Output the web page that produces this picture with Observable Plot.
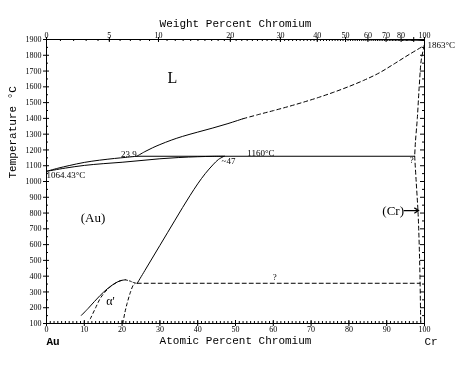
<!DOCTYPE html>
<html><head><meta charset="utf-8">
<script src="https://cdn.jsdelivr.net/npm/d3@7"></script>
<script src="https://cdn.jsdelivr.net/npm/@observablehq/plot@0.6"></script>
<style>html,body{margin:0;padding:0;background:#fff}svg{display:block;will-change:transform}</style>
</head><body><div id="chart"></div>
<script>
// ---- data: [atomic % Cr, temperature °C] ----
const liquidusAu = [[0,1064.43],[3,1084],[6,1101],[10,1121],[14,1135],[18,1146],[21,1153],[23.9,1160]];
const liquidusSolid = [[23.9,1160],[26,1189],[28,1213],[30,1234],[33,1262],[36,1286],[40,1313],[44,1339],[48,1367],[52,1398]];
const liquidusDashed = [[52,1398],[56,1424],[60,1449],[64,1475],[68,1503],[72,1533],[76,1566],[80,1602],[84,1642],[88,1688],[92,1746],[96,1806],[100,1863]];
const solidusAu = [[0,1064.43],[5,1085],[10,1102],[15,1113],[20,1122],[25,1133],[30,1144],[35,1152],[40,1157],[44,1159.5],[47,1160]];
const solvusAu = [[24,355],[26,435],[28,515],[30,595],[32,675],[34,755],[36,835],[38,912],[40,985],[42,1050],[44,1105],[45.5,1140],[47,1160]];
const peritectic = [[23.9,1160],[97.4,1160]];
const eutectoid = [[24,355],[98.8,355]];
const solidusCr = [[100,1863],[99.2,1780],[98.6,1600],[98.1,1400],[97.6,1250],[97.4,1160]];
const solvusCr = [[97.4,1160],[97.8,1000],[98.3,800],[98.6,600],[98.8,400],[99,100]];
const alphaSolid = [[9.2,151],[11,195],[12.7,240],[14.2,278],[16,318],[17.8,350],[19.5,371],[20.9,377]];
const alphaTopDashed = [[20.9,377],[22.2,368],[23,360],[24,355]];
const alphaInnerDashed = [[11.6,130],[13,200],[14.2,258],[15.5,300],[17,335],[19,366],[20.5,376]];
const alphaRightDashed = [[20.2,100],[20.7,165],[21.3,225],[22.2,298],[23,345],[23.5,355]];

// ---- axis tick values ----
const atMajor = d3.range(0, 101, 10);
const atMinor = d3.range(0, 101, 1);
const wtLabels = [0,5,10,20,30,40,50,60,70,80,100];
const wtMajor = [0,5,10,20,30,40,50,60,70,80,90,100];
const wtMinor = d3.range(0, 101, 1);
const tempMajor = d3.range(100, 1901, 100);
const tempMinor = d3.range(150, 1900, 100);

// ---- annotations ----
const regionLabels = [
  {t:"L", x:33.3, y:1659, size:16, style:"normal"},
  {t:"(Au)", x:12.3, y:772, size:13, style:"normal"},
  {t:"(Cr)", x:91.7, y:816, size:13, style:"normal"},
  {t:"α'", x:16.9, y:240, size:12, style:"italic"}
];
const pointLabels = [
  {t:"23.9", x:23.9, y:1160, anchor:"end", line:"bottom", dx:0, dy:1},
  {t:"~47", x:46.3, y:1160, anchor:"start", line:"top", dx:0, dy:1},
  {t:"1160°C", x:53.1, y:1160, anchor:"start", line:"bottom", dx:0, dy:0},
  {t:"1064.43°C", x:0, y:1064.43, anchor:"start", line:"top", dx:0, dy:0},
  {t:"1863°C", x:100, y:1863, anchor:"start", line:"middle", dx:3, dy:0},
  {t:"?", x:96.6, y:1133, anchor:"middle", line:"middle", dx:0, dy:0},
  {t:"?", x:60.4, y:392, anchor:"middle", line:"middle", dx:0, dy:0}
];
const crArrow = [{x1:94.6, x2:98.5, y:816}];

const MAu = 196.967, MCr = 51.996;
const wt2at = w => w >= 100 ? 100 : 100 * (w / MCr) / (w / MCr + (100 - w) / MAu);

const W = 474, H = 372, mL = 46, mR = 50, mT = 39, mB = 49;
const iw = W - mL - mR, ih = H - mT - mB;
const X = d => d[0], Y = d => d[1];
const dash = "4,3";
const serif = "Liberation Serif, Times New Roman, serif";
const mono = "Liberation Mono, Courier New, monospace";

const chart = Plot.plot({
  width: W, height: H,
  marginLeft: mL, marginRight: mR, marginTop: mT, marginBottom: mB,
  x: {domain: [0, 100], axis: null},
  y: {domain: [100, 1900], axis: null},
  style: {background: "white", fontFamily: serif, color: "black"},
  marks: [
    Plot.frame({stroke: "black"}),
    // ticks bottom
    Plot.ruleX(atMajor, {x: d => d, insetTop: ih - 3, insetBottom: -3, stroke: "black"}),
    Plot.ruleX(atMinor, {x: d => d, insetTop: ih - 2, stroke: "black"}),
    // ticks top (weight percent)
    Plot.ruleX(wtMajor, {x: d => wt2at(d), insetBottom: ih - 3, insetTop: -2, stroke: "black"}),
    Plot.ruleX(wtMinor, {x: d => wt2at(d), insetBottom: ih - 2, stroke: "black"}),
    // ticks left
    Plot.ruleY(tempMajor, {y: d => d, insetRight: iw - 3, insetLeft: -3, stroke: "black"}),
    Plot.ruleY(tempMinor, {y: d => d, insetRight: iw - 2, stroke: "black"}),
    // ticks right
    Plot.ruleY(tempMajor, {y: d => d, insetLeft: iw - 4, stroke: "black"}),
    Plot.ruleY(tempMinor, {y: d => d, insetLeft: iw - 2, stroke: "black"}),
    // tick labels
    Plot.text(atMajor, {x: d => d, text: d => String(d), frameAnchor: "bottom", dy: 8, fontSize: 8, fill: "black"}),
    Plot.text(wtLabels, {x: d => wt2at(d), text: d => String(d), frameAnchor: "top", dy: -7, fontSize: 8, fill: "black"}),
    Plot.text(tempMajor, {y: d => d, text: d => String(d), frameAnchor: "left", textAnchor: "end", dx: -5, fontSize: 8, fill: "black"}),
    // axis titles
    Plot.text(["Weight Percent Chromium"], {text: d => d, frameAnchor: "top", dy: -20, fontFamily: mono, fontSize: 11, fill: "black"}),
    Plot.text(["Atomic Percent Chromium"], {text: d => d, frameAnchor: "bottom", dy: 20, fontFamily: mono, fontSize: 11, fill: "black"}),
    Plot.text(["Au"], {x: 0, text: d => d, frameAnchor: "bottom", textAnchor: "start", dy: 21, fontFamily: mono, fontSize: 11, fontWeight: "bold", fill: "black"}),
    Plot.text(["Cr"], {x: 100, text: d => d, frameAnchor: "bottom", textAnchor: "start", dy: 21, fontFamily: mono, fontSize: 11, fill: "black"}),
    Plot.text(["Temperature °C"], {text: d => d, frameAnchor: "left", rotate: -90, dx: -34, dy: -3, fontFamily: mono, fontSize: 11, fill: "black"}),
    // phase boundaries
    Plot.line(liquidusAu, {x: X, y: Y, stroke: "black", strokeWidth: 1, curve: "catmull-rom"}),
    Plot.line(solidusAu, {x: X, y: Y, stroke: "black", strokeWidth: 1, curve: "catmull-rom"}),
    Plot.line(liquidusSolid, {x: X, y: Y, stroke: "black", strokeWidth: 1, curve: "catmull-rom"}),
    Plot.line(liquidusDashed, {x: X, y: Y, stroke: "black", strokeWidth: 1, strokeDasharray: dash, curve: "catmull-rom"}),
    Plot.line(peritectic, {x: X, y: Y, stroke: "black", strokeWidth: 1}),
    Plot.line(solvusAu, {x: X, y: Y, stroke: "black", strokeWidth: 1, curve: "catmull-rom"}),
    Plot.line(eutectoid, {x: X, y: Y, stroke: "black", strokeWidth: 1, strokeDasharray: dash}),
    Plot.line(solidusCr, {x: X, y: Y, stroke: "black", strokeWidth: 1, strokeDasharray: dash, curve: "catmull-rom"}),
    Plot.line(solvusCr, {x: X, y: Y, stroke: "black", strokeWidth: 1, strokeDasharray: dash, curve: "catmull-rom"}),
    Plot.line(alphaSolid, {x: X, y: Y, stroke: "black", strokeWidth: 1, curve: "catmull-rom"}),
    Plot.line(alphaTopDashed, {x: X, y: Y, stroke: "black", strokeWidth: 1, strokeDasharray: "2,2", curve: "catmull-rom"}),
    Plot.line(alphaInnerDashed, {x: X, y: Y, stroke: "black", strokeWidth: 1, strokeDasharray: "3,3", curve: "catmull-rom"}),
    Plot.line(alphaRightDashed, {x: X, y: Y, stroke: "black", strokeWidth: 1, strokeDasharray: "3,3", curve: "catmull-rom"}),
    // (Cr) arrow
    Plot.arrow(crArrow, {x1: "x1", x2: "x2", y1: "y", y2: "y", stroke: "black", strokeWidth: 1.2, headLength: 6}),
    // labels
    Plot.text(regionLabels, {x: "x", y: "y", text: "t", fontSize: d => d.size, fontStyle: d => d.style, fill: "black"}),
    ...pointLabels.map(l => Plot.text([l], {x: "x", y: "y", text: "t", textAnchor: l.anchor, lineAnchor: l.line, dx: l.dx, dy: l.dy, fontSize: 9, fill: "black"}))
  ]
});
document.getElementById("chart").appendChild(chart);
</script>
</body></html>
